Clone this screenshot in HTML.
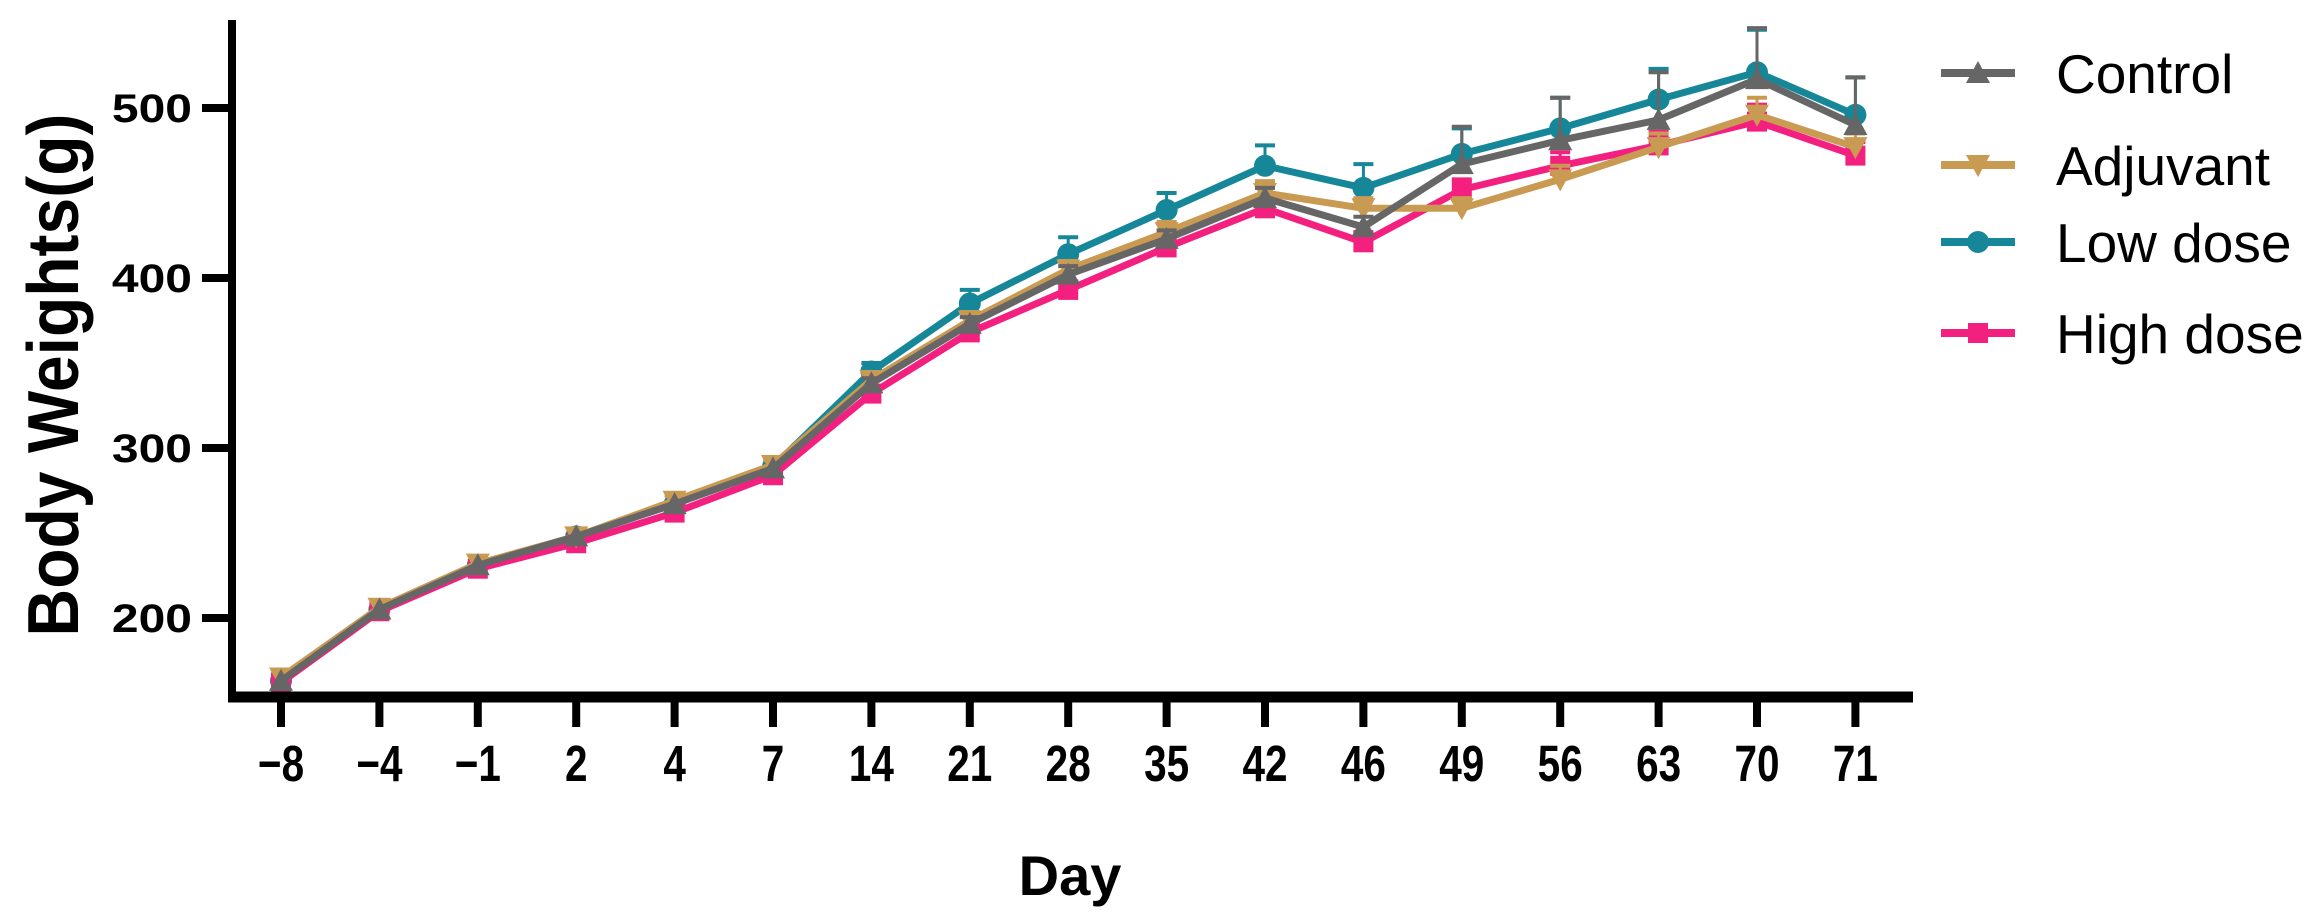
<!DOCTYPE html>
<html><head><meta charset="utf-8"><style>
html,body{margin:0;padding:0;background:#fff;}
svg{display:block;}
text{font-family:"Liberation Sans",sans-serif;}
</style></head><body>
<svg id="c" width="2313" height="923" xmlns="http://www.w3.org/2000/svg">
<g id="plot"></g>
<line x1="232" y1="20" x2="232" y2="702" stroke="#000" stroke-width="8"/>
<line x1="228" y1="697" x2="1913" y2="697" stroke="#000" stroke-width="11"/>
<g stroke="#000" stroke-width="8">
<line x1="202" y1="108" x2="232" y2="108"/>
<line x1="202" y1="278" x2="232" y2="278"/>
<line x1="202" y1="448" x2="232" y2="448"/>
<line x1="202" y1="618" x2="232" y2="618"/>
</g>
<g id="xt"></g>
<g font-weight="bold" font-size="40" text-anchor="end">
<text transform="translate(192,122) scale(1.2,1)">500</text>
<text transform="translate(192,292) scale(1.2,1)">400</text>
<text transform="translate(192,462) scale(1.2,1)">300</text>
<text transform="translate(192,632) scale(1.2,1)">200</text>
</g>
<text transform="translate(78,375) rotate(-90) scale(1,1.1)" font-size="66" font-weight="bold" text-anchor="middle">Body Weights(g)</text>
<text x="1070" y="895" font-size="56" font-weight="bold" text-anchor="middle">Day</text>
<g id="leg"></g>
</svg>
<script>
var NS="http://www.w3.org/2000/svg";
function el(p,t,a,txt){var e=document.createElementNS(NS,t);for(var k in a)e.setAttribute(k,a[k]);if(txt)e.textContent=txt;p.appendChild(e);return e;}
var days=["\u22128","\u22124","\u22121","2","4","7","14","21","28","35","42","46","49","56","63","70","71"];
var X=function(i){return 281+i*98.4;};
var Y=function(v){return 618-(v-200)*1.7;};
var xt=document.getElementById("xt");
days.forEach(function(d,i){
 el(xt,"line",{x1:X(i),y1:700,x2:X(i),y2:727,stroke:"#000","stroke-width":8});
 el(xt,"text",{transform:"translate("+X(i)+",781) scale(0.92,1.15)","font-size":44,"font-weight":"bold","text-anchor":"middle"},d);
});
var S=[
 {n:"Low dose",c:"#168799",m:"circle",d:[163,205,231,248,267,289,345,385,414,440,466,453,473,488,505,521,496],e:[0,0,0,0,0,0,5,8,10,10,12,14,15,18,18,25,22]},
 {n:"High dose",c:"#f4207f",m:"square",d:[162,204,229,244,262,284,332,368,393,418,441,421,452,466,478,492,472],e:[0,0,0,0,0,0,3,4,5,5,5,6,6,8,8,10,8]},
 {n:"Adjuvant",c:"#c99a52",m:"down",d:[165,206,232,248,269,290,340,375,405,427,450,441,441,458,477,496,477],e:[0,0,0,0,3,3,4,5,5,6,7,6,6,8,8,10,8]},
 {n:"Control",c:"#666666",m:"up",d:[163,205,231,248,267,288,338,373,402,423,447,430,467,481,493,517,490],e:[0,0,0,0,0,0,3,4,5,5,6,6,22,25,28,30,28]}
];
function marker(g,m,x,y,c,s){
 if(m=="circle")el(g,"circle",{cx:x,cy:y,r:s*0.55,fill:c});
 else if(m=="square")el(g,"rect",{x:x-s/2,y:y-s/2,width:s,height:s,fill:c});
 else if(m=="up")el(g,"polygon",{points:(x-s*0.6)+","+(y+s*0.5)+" "+(x+s*0.6)+","+(y+s*0.5)+" "+x+","+(y-s*0.6),fill:c});
 else el(g,"polygon",{points:(x-s*0.6)+","+(y-s*0.5)+" "+(x+s*0.6)+","+(y-s*0.5)+" "+x+","+(y+s*0.6),fill:c});
}
var P=document.getElementById("plot");
S.forEach(function(s){
 var g=el(P,"g",{});
 s.d.forEach(function(v,i){if(s.e[i]>0){var x=X(i),y1=Y(v),y2=Y(v+s.e[i]);
  el(g,"line",{x1:x,y1:y1,x2:x,y2:y2,stroke:s.c,"stroke-width":3});
  el(g,"line",{x1:x-10,y1:y2,x2:x+10,y2:y2,stroke:s.c,"stroke-width":4});}});
 el(g,"polyline",{points:s.d.map(function(v,i){return X(i)+","+Y(v);}).join(" "),fill:"none",stroke:s.c,"stroke-width":7,"stroke-linejoin":"round"});
 s.d.forEach(function(v,i){marker(g,s.m,X(i),Y(v),s.c,20);});
});
var L=document.getElementById("leg");
var order=[3,2,0,1],ly=[73,165,242,333];
order.forEach(function(k,j){var s=S[k];
 el(L,"line",{x1:1941,y1:ly[j],x2:2015,y2:ly[j],stroke:s.c,"stroke-width":8});
 marker(L,s.m,1978,ly[j],s.c,20);
 el(L,"text",{x:2056,y:ly[j]+20,"font-size":55},s.n);
});
</script>
</body></html>
